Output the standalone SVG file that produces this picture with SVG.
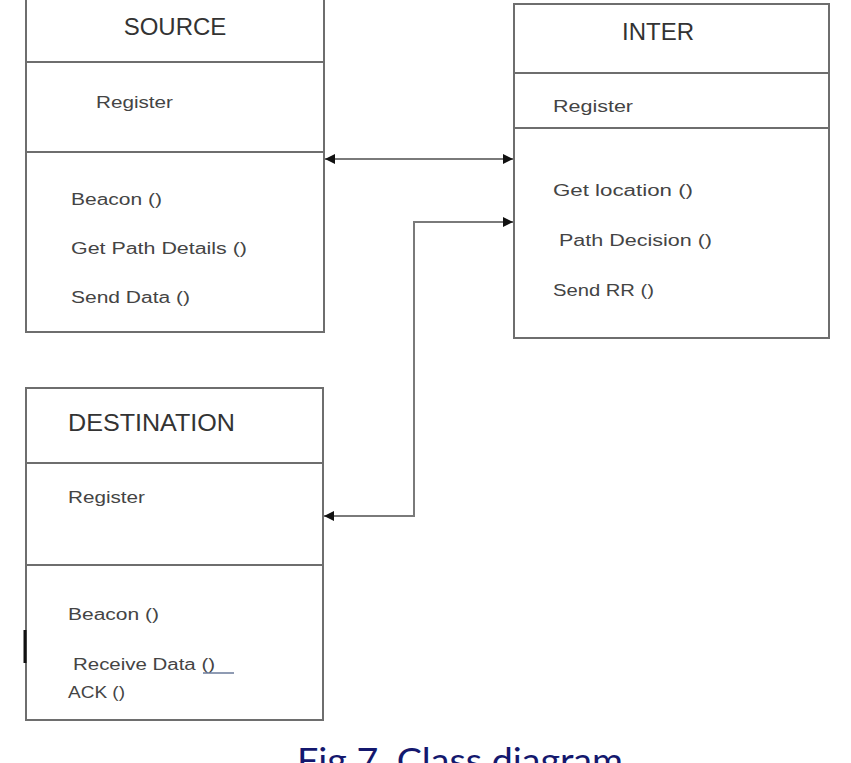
<svg xmlns="http://www.w3.org/2000/svg" width="851" height="763" viewBox="0 0 851 763">
<defs>
<style>
.box{fill:#ffffff;stroke:#6e6e6e;stroke-width:2}
.div{stroke:#6e6e6e;stroke-width:2}
.title{font-family:"Liberation Sans",Arial,sans-serif;font-size:24px;fill:#333333}
.t{font-family:"Liberation Sans",Arial,sans-serif;font-size:16px;fill:#444444}
.conn{fill:none;stroke:#7a7a7a;stroke-width:2}
.cap{font-family:"Lato","Liberation Sans",sans-serif;font-size:34px;fill:#14186e}
</style>
<marker id="ah" viewBox="0 0 10 10" refX="10" refY="5" markerWidth="5" markerHeight="5" orient="auto-start-reverse" markerUnits="strokeWidth">
<path d="M0,0 L10,5 L0,10 z" fill="#111111"/>
</marker>
</defs>
<rect width="851" height="763" fill="#ffffff"/>

<g id="source">
<rect class="box" x="26" y="-2" width="298" height="334"/>
<line class="div" x1="26" y1="62" x2="324" y2="62"/>
<line class="div" x1="26" y1="152" x2="324" y2="152"/>
<text class="title" x="175" y="35" text-anchor="middle">SOURCE</text>
<text class="t" x="96" y="108" textLength="77" lengthAdjust="spacingAndGlyphs">Register</text>
<text class="t" x="71" y="205" textLength="91" lengthAdjust="spacingAndGlyphs">Beacon ()</text>
<text class="t" x="71" y="254" textLength="176" lengthAdjust="spacingAndGlyphs">Get Path Details ()</text>
<text class="t" x="71" y="303" textLength="119" lengthAdjust="spacingAndGlyphs">Send Data ()</text>
</g>

<g id="inter">
<rect class="box" x="514" y="4" width="315" height="334"/>
<line class="div" x1="514" y1="73" x2="829" y2="73"/>
<line class="div" x1="514" y1="128" x2="829" y2="128"/>
<text class="title" x="658" y="40" text-anchor="middle">INTER</text>
<text class="t" x="553" y="112" textLength="80" lengthAdjust="spacingAndGlyphs">Register</text>
<text class="t" x="553" y="196" textLength="140" lengthAdjust="spacingAndGlyphs">Get location ()</text>
<text class="t" x="559" y="246" textLength="153" lengthAdjust="spacingAndGlyphs">Path Decision ()</text>
<text class="t" x="553" y="296" textLength="101" lengthAdjust="spacingAndGlyphs">Send RR ()</text>
</g>

<g id="destination">
<rect class="box" x="26" y="388" width="297" height="332"/>
<line class="div" x1="26" y1="463" x2="323" y2="463"/>
<line class="div" x1="26" y1="565" x2="323" y2="565"/>
<line x1="25" y1="630" x2="25" y2="663" stroke="#111111" stroke-width="3"/>
<text class="title" x="68" y="431" textLength="167" lengthAdjust="spacingAndGlyphs">DESTINATION</text>
<text class="t" x="68" y="503" textLength="77" lengthAdjust="spacingAndGlyphs">Register</text>
<text class="t" x="68" y="620" textLength="91" lengthAdjust="spacingAndGlyphs">Beacon ()</text>
<text class="t" x="73" y="670" textLength="142" lengthAdjust="spacingAndGlyphs">Receive Data ()</text>
<line x1="203" y1="673" x2="234" y2="673" stroke="#6a7a9a" stroke-width="1.5"/>
<text class="t" x="68" y="698" textLength="57" lengthAdjust="spacingAndGlyphs">ACK ()</text>
</g>

<g id="connectors">
<path class="conn" d="M325,159 L513,159" marker-start="url(#ah)" marker-end="url(#ah)"/>
<path class="conn" d="M513,222 L414,222 L414,516 L324,516" marker-start="url(#ah)" marker-end="url(#ah)"/>
</g>

<text class="cap" x="297" y="773" textLength="326" lengthAdjust="spacingAndGlyphs">Fig 7.  Class diagram</text>
</svg>
